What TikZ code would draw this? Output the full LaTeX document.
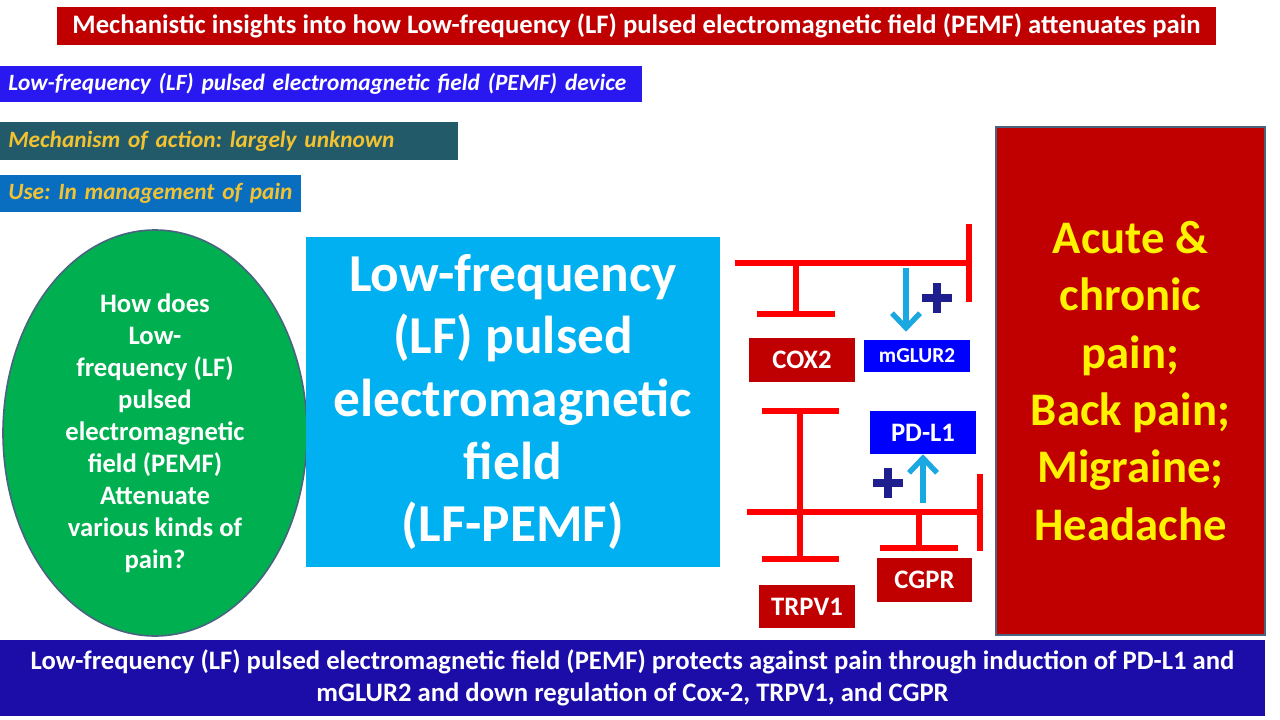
\documentclass[tikz,border=0pt]{standalone}
\usepackage{fontspec}
\setmainfont{Carlito}
\usepackage{tikz}
\usetikzlibrary{arrows.meta,positioning,shapes.geometric}
\usepackage{xcolor}
\definecolor{titlered}{HTML}{C00000}
\definecolor{devblue}{HTML}{2A18F0}
\definecolor{mechteal}{HTML}{225A6A}
\definecolor{useblue}{HTML}{0A6EC0}
\definecolor{goldtxt}{HTML}{F2C230}
\definecolor{askgreen}{HTML}{00B050}
\definecolor{slate}{HTML}{4A6380}
\definecolor{pemfcyan}{HTML}{00B0F0}
\definecolor{sumblue}{HTML}{1C0CA8}
\definecolor{inhred}{HTML}{FF0000}
\definecolor{actcyan}{HTML}{1AA8E2}
\definecolor{plusnavy}{HTML}{1E1E8E}
\frenchspacing

\begin{document}
\begin{tikzpicture}[
  x=0.75pt, y=-0.75pt,
  banner/.style={inner sep=0pt, align=center, text=white,
    font=\fontsize{20}{23.5}\selectfont\bfseries},
  infobar/.style={anchor=west, inner xsep=6pt, inner ysep=0pt, align=left,
    font=\fontsize{17.5}{19}\selectfont\bfseries\itshape},
  bigbox/.style={inner sep=0pt, align=center, font=\bfseries},
  target/.style={inner sep=0pt, text=white, font=\fontsize{20}{22}\selectfont\bfseries},
  down/.style={target, fill=titlered},
  upreg/.style={target, fill=blue},
  inhib/.style={line width=4.5pt, inhred, -{Bar[width=58.5pt]}},
  act/.style={line width=4pt, actcyan, -{Straight Barb[length=11pt, width=21pt]}},
  plusmark/.style={line width=6pt, plusnavy},
  plusglow/.style={line width=10pt, white}
]
  \useasboundingbox (0,0) rectangle (1280,720);

  % Header and info bars
  \node[banner, fill=titlered, minimum width=869pt, minimum height=29pt] (title) at (636.5,26)
    {Mechanistic insights into how Low-frequency (LF) pulsed electromagnetic field (PEMF) attenuates pain};
  \node[infobar, fill=devblue, text=white, text width=469.5pt, minimum height=27pt] (device) at (0,84)
    {Low-frequency (LF) pulsed electromagnetic field (PEMF) device};
  \node[infobar, fill=mechteal, text=goldtxt, text width=331.5pt, minimum height=28.5pt] (mechanism) at (0,141)
    {Mechanism of action: largely unknown};
  \node[infobar, fill=useblue, text=goldtxt, text width=213.75pt, minimum height=27.75pt] (use) at (0,193.5)
    {Use: In management of pain};

  % Question, field and outcome
  \node[ellipse, bigbox, fill=askgreen, draw=slate, line width=1.2pt, text=white,
    minimum width=228pt, minimum height=304.5pt, font=\fontsize{20}{24}\selectfont\bfseries] (question) at (155,433)
    {How does\\ Low-\\ frequency (LF)\\ pulsed\\ electromagnetic\\ field (PEMF)\\ Attenuate\\ various kinds of\\ pain?};
  \node[bigbox, fill=pemfcyan, text=white, minimum width=310.5pt, minimum height=247.5pt,
    font=\fontsize{40}{47}\selectfont\bfseries] (pemf) at (513,402)
    {Low-frequency\\ (LF) pulsed\\ electromagnetic\\ field\\ (LF-PEMF)};
  \node[bigbox, fill=titlered, draw=slate, line width=1.5pt, text=yellow, minimum width=201.75pt,
    minimum height=381pt, font=\fontsize{35}{43}\selectfont\bfseries] (pain) at (1130.5,381)
    {Acute \&\\ chronic\\ pain;\\ Back pain;\\ Migraine;\\ Headache};

  % Mediators
  \node[down, minimum width=79.5pt, minimum height=33pt] (cox) at (802,360) {COX2};
  \node[upreg, minimum width=79.5pt, minimum height=24pt, font=\fontsize{16}{18}\selectfont\bfseries] (mglur) at (917,356) {mGLUR2};
  \node[upreg, minimum width=79.5pt, minimum height=32.25pt] (pdl) at (923,432.5) {PD-L1};
  \node[down, minimum width=71.25pt, minimum height=33pt] (cgpr) at (924.5,580) {CGPR};
  \node[down, minimum width=72pt, minimum height=32.25pt] (trpv) at (807,606.5) {TRPV1};

  % Upper inhibition branch
  \coordinate (upL) at (735,263);
  \coordinate (upR) at (972,263);
  \coordinate (coxTop) at (796,263);
  \coordinate (coxEnd) at (796,317);
  \coordinate (mglStart) at (906,268);
  \draw[inhib] (upL) -- (upR);
  \draw[inhib] (coxTop) -- (coxEnd);
  \draw[act] (mglStart) -- ([yshift=6pt]mglur.north -| mglStart);

  % Lower inhibition branch
  \coordinate (lowL) at (747,512);
  \coordinate (lowR) at (983,512);
  \coordinate (trpTop) at (800,408);
  \coordinate (trpEnd) at (800,562);
  \coordinate (cgTop) at (919,512);
  \coordinate (cgEnd) at (919,551);
  \coordinate (pdlStart) at (923,503);
  \draw[inhib, -{Bar[width=57.75pt]}] (lowL) -- (lowR);
  \draw[inhib, {Bar[width=57.75pt]}-{Bar[width=57.75pt]}] (trpTop) -- (trpEnd);
  \draw[inhib] (cgTop) -- (cgEnd);
  \draw[act] (pdlStart) -- (pdl.south -| pdlStart);

  % Plus signs
  \coordinate (plusA) at (937,298);
  \coordinate (plusB) at (888,483);
  \draw[plusglow] ([xshift=-13pt]plusA) -- ([xshift=13pt]plusA) ([yshift=-13pt]plusA) -- ([yshift=13pt]plusA);
  \draw[plusmark] ([xshift=-11pt]plusA) -- ([xshift=11pt]plusA) ([yshift=-11pt]plusA) -- ([yshift=11pt]plusA);
  \draw[plusglow] ([xshift=-13pt]plusB) -- ([xshift=13pt]plusB) ([yshift=-13pt]plusB) -- ([yshift=13pt]plusB);
  \draw[plusmark] ([xshift=-11pt]plusB) -- ([xshift=11pt]plusB) ([yshift=-11pt]plusB) -- ([yshift=11pt]plusB);

  % Summary bar
  \node[banner, fill=sumblue, minimum width=948.75pt, minimum height=57pt] (summary) at (632.5,678)
    {Low-frequency (LF) pulsed electromagnetic field (PEMF) protects against pain through induction of PD-L1 and\\
     mGLUR2 and down regulation of Cox-2, TRPV1, and CGPR};
\end{tikzpicture}
\end{document}
